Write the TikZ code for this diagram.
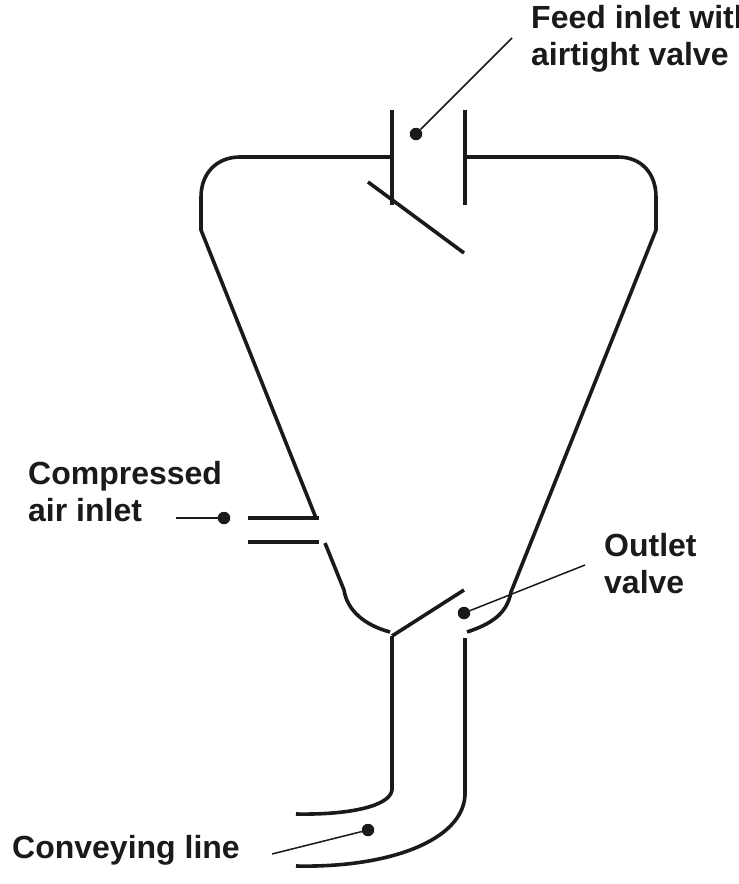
\documentclass[tikz,border=0pt]{standalone}
\usepackage{fontspec}
\setmainfont{Liberation Sans}
\usepackage{xcolor}
\definecolor{inkblack}{HTML}{1A1A1A}
\tikzset{
  wall/.style={draw=inkblack, line width=3.6pt},
  leader/.style={draw=inkblack, line width=1.5pt},
  dot/.style={circle, fill=inkblack, minimum size=12.5pt, inner sep=0pt},
  caption/.style={text=inkblack, font=\fontsize{32}{37.5}\selectfont\bfseries, align=left, anchor=north west, inner sep=0pt}
}

\begin{document}
\begin{tikzpicture}[x=1pt, y=-1pt]
\useasboundingbox (0,0) rectangle (739,884);
\clip (0,0) rectangle (739,884);

% hopper
\draw[wall] (392,157)--(240,157) .. controls (217,157) and (201,173) .. (201,197)--(201,230)--(316,518);
\draw[wall] (465,157)--(618,157) .. controls (641,157) and (656,173) .. (656,197)--(656,230)--(511,592) .. controls (507,614) and (491,624) .. (467,632);
\draw[wall] (325,543)--(344,590) .. controls (347,610) and (364,625) .. (390,632);

% feed inlet
\draw[wall] (392,110)--(392,205);
\draw[wall] (465,110)--(465,205);
\draw[wall] (368,182)--(464,253);

% air inlet
\draw[wall] (248,518)--(319,518);
\draw[wall] (248,542)--(319,542);

% outlet valve and conveying line
\draw[wall] (464,590)--(392,636);
\draw[wall] (392,636)--(392,790) .. controls (390,806) and (350,815) .. (296,814);
\draw[wall] (465,638)--(465,795) .. controls (463,840) and (390,868) .. (296,866);

\node[dot] (feeddot) at (416,134) {};
\node[dot] (airdot) at (224,518) {};
\node[dot] (outletdot) at (464,613) {};
\node[dot] (linedot) at (368,830) {};

\coordinate (feedend) at (512,38);
\coordinate (airend) at (176,518);
\coordinate (outletend) at (585,565);
\coordinate (lineend) at (272,854);

\draw[leader] (feedend)--(feeddot);
\draw[leader] (airend)--(airdot);
\draw[leader] (outletend)--(outletdot);
\draw[leader] (lineend)--(linedot);

\node[caption] (feedtext) at (531,5) {Feed inlet with\\airtight valve};
\node[caption] (airtext) at (28,461) {Compressed\\air inlet};
\node[caption] (outlettext) at (604,533) {Outlet\\valve};
\node[caption] (linetext) at (12,835) {Conveying line};
\end{tikzpicture}
\end{document}
